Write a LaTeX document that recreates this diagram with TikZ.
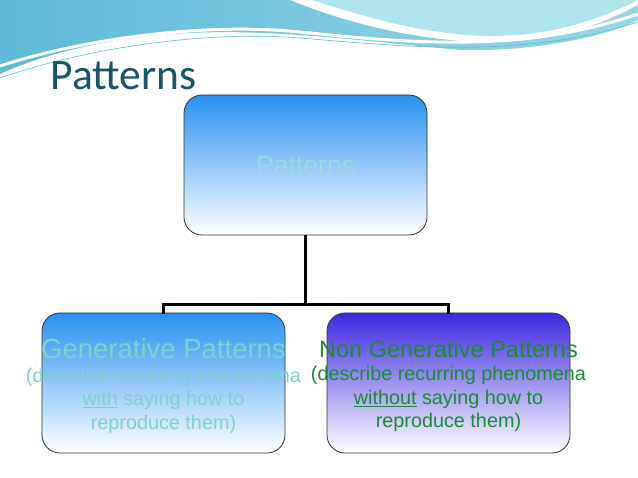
\documentclass[tikz,border=0pt]{standalone}
\usepackage{fontspec}
\setmainfont{Liberation Sans}
\newfontfamily\titlefont{Carlito}
\begin{document}
\begin{tikzpicture}[x=1pt,y=-1pt,
  box/.style={draw=black!80,line width=0.8pt,rounded corners=18pt},
  conn/.style={line width=3pt},
  txt/.style={align=center,font=\fontsize{19.8}{23.5}\selectfont}]
\definecolor{skyA}{RGB}{40,145,240}
\definecolor{skyM}{RGB}{150,200,245}
\definecolor{violA}{RGB}{60,40,225}
\definecolor{violM}{RGB}{160,150,235}
\definecolor{paleT}{RGB}{150,220,225}
\definecolor{tealL}{RGB}{125,210,205}
\definecolor{greenT}{RGB}{25,140,50}
\definecolor{titleC}{RGB}{25,85,105}
\definecolor{bandA}{RGB}{95,185,215}
\definecolor{bandB}{RGB}{150,215,230}
\definecolor{bandC}{RGB}{175,228,236}
\useasboundingbox (0,0) rectangle (638,478);
\fill[white] (0,0) rectangle (638,478);
% banner
\shade[left color=bandA,right color=bandB]
 (0,0)--(290,0) .. controls (350,25) and (420,40) .. (480,42)
 .. controls (560,44) and (610,20) .. (638,5) -- (638,20)
 .. controls (600,40) and (520,52) .. (460,50)
 .. controls (350,40) and (250,25) .. (150,36)
 .. controls (80,44) and (30,60) .. (0,74) -- cycle;
\fill[bandC] (312,0) .. controls (380,22) and (430,34) .. (485,36)
 .. controls (560,37) and (610,14) .. (638,0) -- cycle;
\draw[white,line width=3pt] (0,66) .. controls (80,40) and (200,22) .. (300,32) .. controls (400,42) and (520,55) .. (638,14);
\draw[bandA,line width=0.6pt] (0,78) .. controls (80,50) and (200,30) .. (300,38) .. controls (400,46) and (520,60) .. (638,22);
% title
\node[anchor=base west,text=titleC,font=\titlefont\fontsize{43.5}{46}\selectfont] (title) at (47,90) {Patterns};
% boxes
\draw[box,top color=skyA,middle color=skyM,bottom color=white] (184,95) rectangle (427,235);
\draw[box,top color=skyA,middle color=skyM,bottom color=white] (42,313) rectangle (285,453);
\draw[box,top color=violA,middle color=violM,bottom color=white] (327,313) rectangle (570,453);
\coordinate (top) at (305.5,235);
\coordinate (left) at (163.5,313);
\coordinate (right) at (448.5,313);
\node[text=paleT,font=\fontsize{26.5}{30}\selectfont] (ptxt) at (305.5,166) {Patterns};
\node[txt,text=tealL] (gtxt) at (163.5,386) {{\fontsize{27.5}{28}\selectfont Generative Patterns}\\(describe recurring phenomena\\\underline{with} saying how to\\reproduce them)};
\node[txt,text=greenT] (ntxt) at (448.5,386) {{\fontsize{23.5}{28}\selectfont Non Generative Patterns}\\(describe recurring phenomena\\\underline{without} saying how to\\reproduce them)};
\draw[conn] (top) -- ++(0,70) coordinate (mid);
\draw[conn,line cap=rect] (left) |- (mid) -| (right);
\end{tikzpicture}
\end{document}
